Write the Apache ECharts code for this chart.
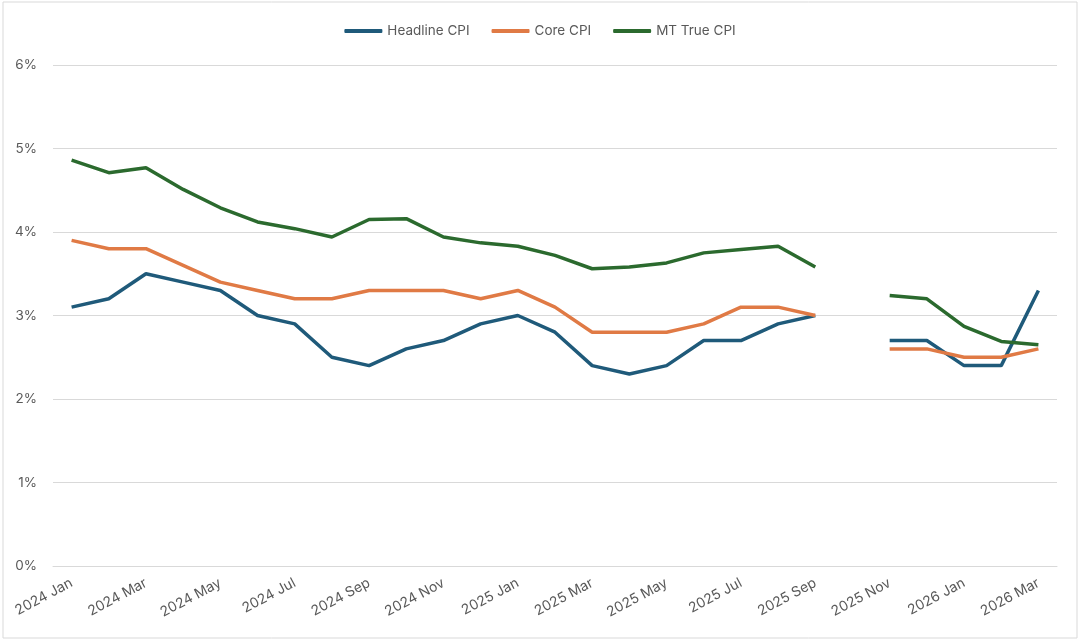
<!DOCTYPE html>
<html>
<head>
    <meta charset="utf-8">
    <title>Headline CPI, Core CPI and MT True CPI</title>
    <script src="https://cdn.jsdelivr.net/npm/echarts@6.0.0/dist/echarts.min.js"></script>
    <style>
        html, body { margin: 0; padding: 0; background: #fff; }
        #chart-container { width: 1080px; height: 643px; }
    </style>
</head>
<body>
<div id="chart-container"></div>

<script>
    // months: 2024 Jan .. 2026 Mar
    var months = [
        '2024 Jan', '2024 Feb', '2024 Mar', '2024 Apr', '2024 May', '2024 Jun',
        '2024 Jul', '2024 Aug', '2024 Sep', '2024 Oct', '2024 Nov', '2024 Dec',
        '2025 Jan', '2025 Feb', '2025 Mar', '2025 Apr', '2025 May', '2025 Jun',
        '2025 Jul', '2025 Aug', '2025 Sep', '2025 Oct', '2025 Nov', '2025 Dec',
        '2026 Jan', '2026 Feb', '2026 Mar'
    ];

    // values in %, 2025 Oct missing
    var headline = [3.1, 3.2, 3.5, 3.4, 3.3, 3.0, 2.9, 2.5, 2.4, 2.6, 2.7, 2.9,
                    3.0, 2.8, 2.4, 2.3, 2.4, 2.7, 2.7, 2.9, 3.0, null, 2.7, 2.7,
                    2.4, 2.4, 3.3];
    var core = [3.9, 3.8, 3.8, 3.6, 3.4, 3.3, 3.2, 3.2, 3.3, 3.3, 3.3, 3.2,
                3.3, 3.1, 2.8, 2.8, 2.8, 2.9, 3.1, 3.1, 3.0, null, 2.6, 2.6,
                2.5, 2.5, 2.6];
    var mtTrue = [4.86, 4.71, 4.77, 4.51, 4.29, 4.12, 4.04, 3.94, 4.15, 4.16, 3.94, 3.87,
                  3.83, 3.72, 3.56, 3.58, 3.63, 3.75, 3.79, 3.83, 3.58, null, 3.24, 3.2,
                  2.87, 2.69, 2.65];

    var myChart = echarts.init(document.getElementById('chart-container'));

    var textColor = '#595959';
    var gridColor = '#d9d9d9';
    var fontFamily = 'Inter, "Open Sans", sans-serif';

    function lineSeries(name, data, color) {
        return {
            name: name,
            type: 'line',
            data: data,
            showSymbol: false,
            symbol: 'none',
            connectNulls: false,
            lineStyle: { width: 3.5, color: color },
            itemStyle: { color: color }
        };
    }

    var option = {
        animation: false,
        textStyle: { fontFamily: fontFamily },
        graphic: [{
            type: 'rect',
            shape: { x: 3, y: 2, width: 1074, height: 636 },
            style: { fill: 'none', stroke: '#d9d9d9', lineWidth: 1 },
            silent: true
        }],
        legend: {
            top: 19,
            left: 'center',
            itemWidth: 38,
            itemHeight: 4,
            itemGap: 22,
            icon: 'roundRect',
            textStyle: { color: textColor, fontSize: 13.5, fontFamily: fontFamily }
        },
        grid: {
            left: 53,
            right: 23,
            top: 65,
            bottom: 77
        },
        xAxis: {
            type: 'category',
            data: months,
            boundaryGap: true,
            axisLine: { lineStyle: { color: gridColor } },
            axisTick: { show: false },
            axisLabel: {
                interval: 1,
                rotate: 28,
                color: textColor,
                fontSize: 14,
                margin: 16
            }
        },
        yAxis: {
            type: 'value',
            min: 0,
            max: 6,
            interval: 1,
            axisLine: { show: false },
            axisTick: { show: false },
            axisLabel: {
                formatter: '{value}%',
                color: textColor,
                fontSize: 13.5,
                margin: 16
            },
            splitLine: { lineStyle: { color: gridColor, width: 1 } }
        },
        series: [
            lineSeries('Headline CPI', headline, '#1f5a7a'),
            lineSeries('Core CPI', core, '#e07a45'),
            lineSeries('MT True CPI', mtTrue, '#2b6a2e')
        ]
    };

    myChart.setOption(option);

    window.addEventListener('resize', function() {
        myChart.resize();
    });
</script>
</body>
</html>
